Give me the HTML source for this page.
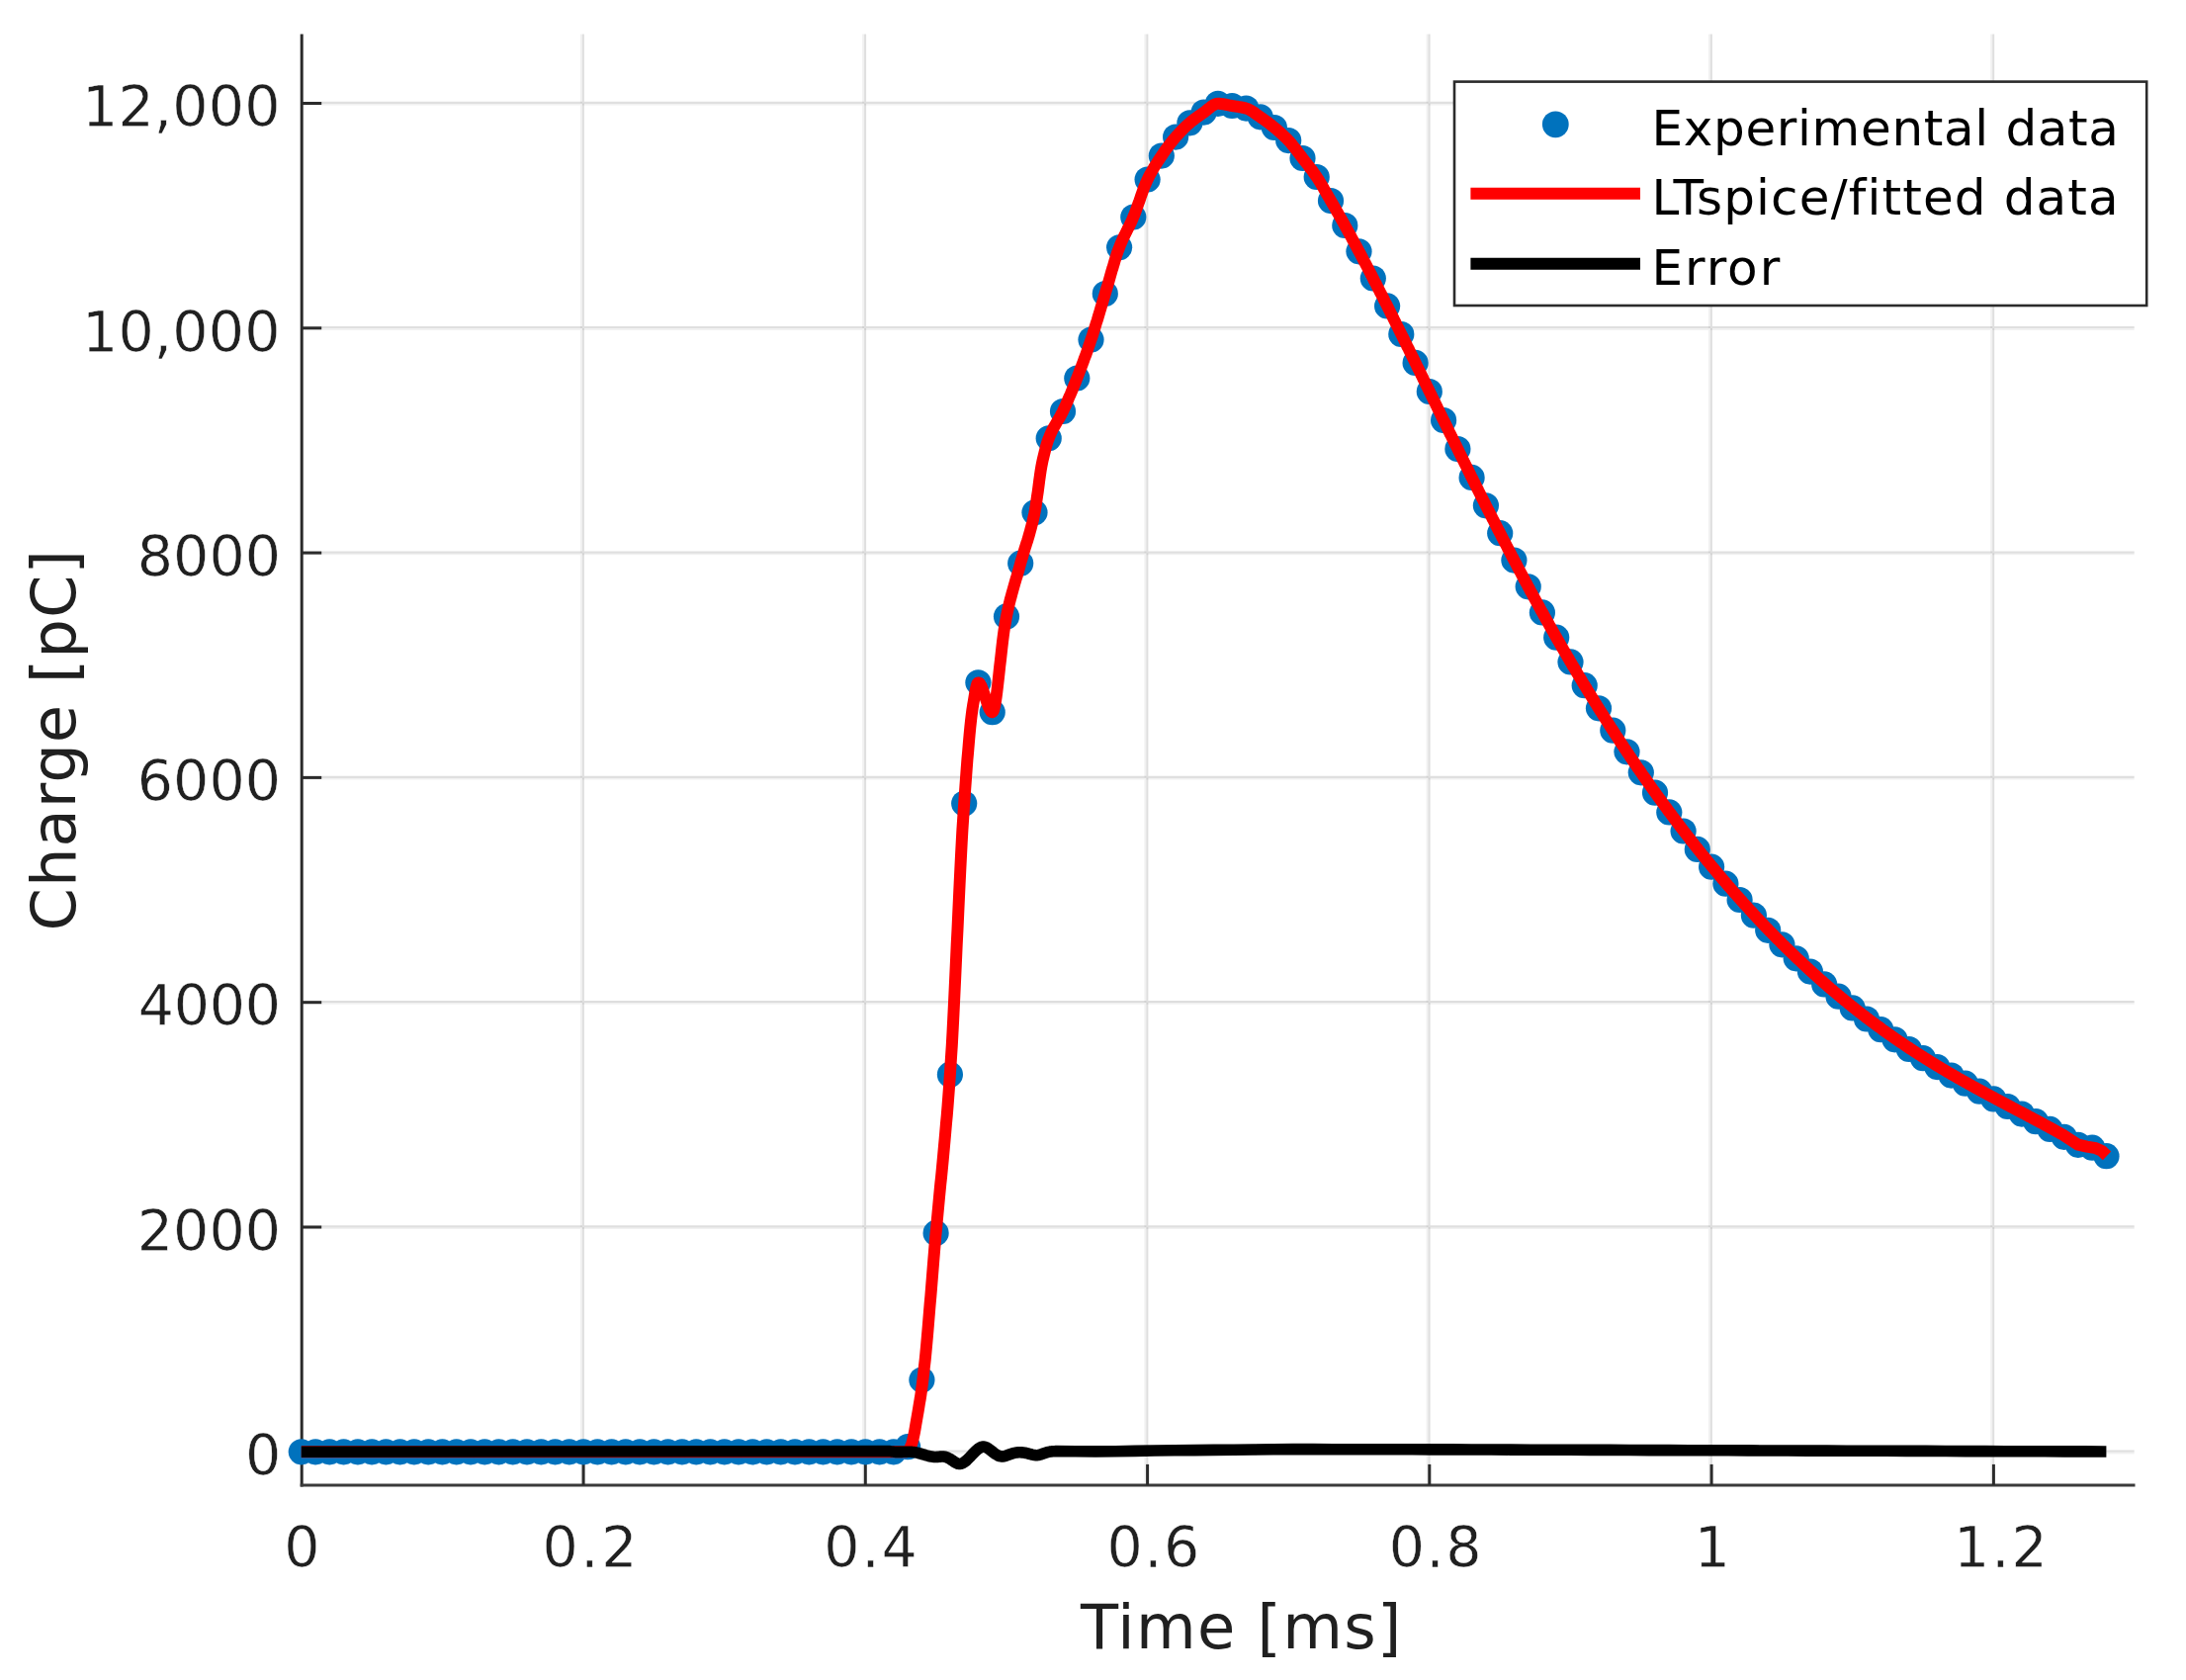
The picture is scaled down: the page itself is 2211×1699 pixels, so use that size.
<!DOCTYPE html>
<html lang="en"><head><meta charset="utf-8"><title>Charge vs Time</title>
<style>html,body{margin:0;padding:0;background:#fff}body{width:2211px;height:1699px;overflow:hidden}</style>
</head><body>
<svg width="2211" height="1699" viewBox="0 0 2211 1699" style="display:block;filter:blur(0.55px)">
<rect width="2211" height="1699" fill="#fff"/>
<path d="M589.9 34.5V1501.9M875.1 34.5V1501.9M1160.4 34.5V1501.9M1445.6 34.5V1501.9M1730.9 34.5V1501.9M2016.2 34.5V1501.9M305.2 1467.6H2158.7M305.2 1240.3H2158.7M305.2 1013.0H2158.7M305.2 785.7H2158.7M305.2 558.4H2158.7M305.2 331.1H2158.7M305.2 103.8H2158.7" stroke="#000" stroke-opacity="0.125" stroke-width="2" fill="none"/>
<path d="M587.9 34.5V1501.9M873.1 34.5V1501.9M1158.4 34.5V1501.9M1443.6 34.5V1501.9M1728.9 34.5V1501.9M2014.2 34.5V1501.9M305.2 1469.4H2158.7M305.2 1242.1H2158.7M305.2 1014.8H2158.7M305.2 787.5H2158.7M305.2 560.2H2158.7M305.2 332.9H2158.7M305.2 105.6H2158.7" stroke="#000" stroke-opacity="0.055" stroke-width="2" fill="none"/>
<g stroke="#2b2b2b" stroke-width="3" fill="none">
<line x1="305.2" y1="34.5" x2="305.2" y2="1503.4"/>
<line x1="303.7" y1="1501.9" x2="2159.5" y2="1501.9" stroke="#3a3a3a"/>
<line x1="590.1" y1="1501.9" x2="590.1" y2="1480.9"/>
<line x1="875.3" y1="1501.9" x2="875.3" y2="1480.9"/>
<line x1="1160.6" y1="1501.9" x2="1160.6" y2="1480.9"/>
<line x1="1445.8" y1="1501.9" x2="1445.8" y2="1480.9"/>
<line x1="1731.1" y1="1501.9" x2="1731.1" y2="1480.9"/>
<line x1="2016.4" y1="1501.9" x2="2016.4" y2="1480.9"/>
<line x1="305.2" y1="1468.3" x2="325.2" y2="1468.3"/>
<line x1="305.2" y1="1241.0" x2="325.2" y2="1241.0"/>
<line x1="305.2" y1="1013.7" x2="325.2" y2="1013.7"/>
<line x1="305.2" y1="786.4" x2="325.2" y2="786.4"/>
<line x1="305.2" y1="559.1" x2="325.2" y2="559.1"/>
<line x1="305.2" y1="331.8" x2="325.2" y2="331.8"/>
<line x1="305.2" y1="104.5" x2="325.2" y2="104.5"/>
</g>
<g fill="#0072bd">
<circle cx="304.8" cy="1468.3" r="13.1"/>
<circle cx="319.1" cy="1468.3" r="13.1"/>
<circle cx="333.3" cy="1468.3" r="13.1"/>
<circle cx="347.6" cy="1468.3" r="13.1"/>
<circle cx="361.9" cy="1468.3" r="13.1"/>
<circle cx="376.1" cy="1468.3" r="13.1"/>
<circle cx="390.4" cy="1468.3" r="13.1"/>
<circle cx="404.6" cy="1468.3" r="13.1"/>
<circle cx="418.9" cy="1468.3" r="13.1"/>
<circle cx="433.2" cy="1468.3" r="13.1"/>
<circle cx="447.4" cy="1468.3" r="13.1"/>
<circle cx="461.7" cy="1468.3" r="13.1"/>
<circle cx="476.0" cy="1468.3" r="13.1"/>
<circle cx="490.2" cy="1468.3" r="13.1"/>
<circle cx="504.5" cy="1468.3" r="13.1"/>
<circle cx="518.7" cy="1468.3" r="13.1"/>
<circle cx="533.0" cy="1468.3" r="13.1"/>
<circle cx="547.3" cy="1468.3" r="13.1"/>
<circle cx="561.5" cy="1468.3" r="13.1"/>
<circle cx="575.8" cy="1468.3" r="13.1"/>
<circle cx="590.1" cy="1468.3" r="13.1"/>
<circle cx="604.3" cy="1468.3" r="13.1"/>
<circle cx="618.6" cy="1468.3" r="13.1"/>
<circle cx="632.8" cy="1468.3" r="13.1"/>
<circle cx="647.1" cy="1468.3" r="13.1"/>
<circle cx="661.4" cy="1468.3" r="13.1"/>
<circle cx="675.6" cy="1468.3" r="13.1"/>
<circle cx="689.9" cy="1468.3" r="13.1"/>
<circle cx="704.2" cy="1468.3" r="13.1"/>
<circle cx="718.4" cy="1468.3" r="13.1"/>
<circle cx="732.7" cy="1468.3" r="13.1"/>
<circle cx="747.0" cy="1468.3" r="13.1"/>
<circle cx="761.2" cy="1468.3" r="13.1"/>
<circle cx="775.5" cy="1468.3" r="13.1"/>
<circle cx="789.7" cy="1468.3" r="13.1"/>
<circle cx="804.0" cy="1468.3" r="13.1"/>
<circle cx="818.3" cy="1468.3" r="13.1"/>
<circle cx="832.5" cy="1468.3" r="13.1"/>
<circle cx="846.8" cy="1468.3" r="13.1"/>
<circle cx="861.1" cy="1468.3" r="13.1"/>
<circle cx="875.3" cy="1468.3" r="13.1"/>
<circle cx="889.6" cy="1468.3" r="13.1"/>
<circle cx="903.8" cy="1468.3" r="13.1"/>
<circle cx="918.1" cy="1463.2" r="13.1"/>
<circle cx="932.4" cy="1395.6" r="13.1"/>
<circle cx="946.6" cy="1246.9" r="13.1"/>
<circle cx="960.9" cy="1086.7" r="13.1"/>
<circle cx="975.2" cy="812.5" r="13.1"/>
<circle cx="989.4" cy="690.3" r="13.1"/>
<circle cx="1003.7" cy="720.2" r="13.1"/>
<circle cx="1018.0" cy="623.4" r="13.1"/>
<circle cx="1032.2" cy="569.7" r="13.1"/>
<circle cx="1046.5" cy="518.3" r="13.1"/>
<circle cx="1060.7" cy="443.3" r="13.1"/>
<circle cx="1075.0" cy="416.0" r="13.1"/>
<circle cx="1089.3" cy="382.5" r="13.1"/>
<circle cx="1103.5" cy="343.5" r="13.1"/>
<circle cx="1117.8" cy="297.0" r="13.1"/>
<circle cx="1132.1" cy="250.3" r="13.1"/>
<circle cx="1146.3" cy="219.5" r="13.1"/>
<circle cx="1160.6" cy="181.6" r="13.1"/>
<circle cx="1174.8" cy="157.6" r="13.1"/>
<circle cx="1189.1" cy="138.6" r="13.1"/>
<circle cx="1203.4" cy="124.3" r="13.1"/>
<circle cx="1217.6" cy="113.6" r="13.1"/>
<circle cx="1231.9" cy="104.8" r="13.1"/>
<circle cx="1246.2" cy="107.0" r="13.1"/>
<circle cx="1260.4" cy="109.6" r="13.1"/>
<circle cx="1274.7" cy="118.3" r="13.1"/>
<circle cx="1288.9" cy="129.0" r="13.1"/>
<circle cx="1303.2" cy="142.1" r="13.1"/>
<circle cx="1317.5" cy="160.0" r="13.1"/>
<circle cx="1331.7" cy="179.0" r="13.1"/>
<circle cx="1346.0" cy="203.1" r="13.1"/>
<circle cx="1360.3" cy="228.0" r="13.1"/>
<circle cx="1374.5" cy="254.3" r="13.1"/>
<circle cx="1388.8" cy="281.5" r="13.1"/>
<circle cx="1403.1" cy="309.4" r="13.1"/>
<circle cx="1417.3" cy="338.0" r="13.1"/>
<circle cx="1431.6" cy="366.9" r="13.1"/>
<circle cx="1445.8" cy="396.0" r="13.1"/>
<circle cx="1460.1" cy="425.1" r="13.1"/>
<circle cx="1474.4" cy="454.1" r="13.1"/>
<circle cx="1488.6" cy="482.9" r="13.1"/>
<circle cx="1502.9" cy="511.3" r="13.1"/>
<circle cx="1517.2" cy="539.2" r="13.1"/>
<circle cx="1531.4" cy="566.6" r="13.1"/>
<circle cx="1545.7" cy="593.3" r="13.1"/>
<circle cx="1559.9" cy="619.4" r="13.1"/>
<circle cx="1574.2" cy="644.7" r="13.1"/>
<circle cx="1588.5" cy="669.4" r="13.1"/>
<circle cx="1602.7" cy="693.2" r="13.1"/>
<circle cx="1617.0" cy="716.3" r="13.1"/>
<circle cx="1631.3" cy="738.7" r="13.1"/>
<circle cx="1645.5" cy="760.3" r="13.1"/>
<circle cx="1659.8" cy="781.3" r="13.1"/>
<circle cx="1674.0" cy="801.7" r="13.1"/>
<circle cx="1688.3" cy="821.4" r="13.1"/>
<circle cx="1702.6" cy="840.5" r="13.1"/>
<circle cx="1716.8" cy="858.9" r="13.1"/>
<circle cx="1731.1" cy="876.7" r="13.1"/>
<circle cx="1745.4" cy="893.7" r="13.1"/>
<circle cx="1759.6" cy="910.0" r="13.1"/>
<circle cx="1773.9" cy="925.7" r="13.1"/>
<circle cx="1788.2" cy="940.8" r="13.1"/>
<circle cx="1802.4" cy="955.3" r="13.1"/>
<circle cx="1816.7" cy="969.3" r="13.1"/>
<circle cx="1830.9" cy="982.6" r="13.1"/>
<circle cx="1845.2" cy="995.4" r="13.1"/>
<circle cx="1859.5" cy="1007.7" r="13.1"/>
<circle cx="1873.7" cy="1019.4" r="13.1"/>
<circle cx="1888.0" cy="1030.5" r="13.1"/>
<circle cx="1902.3" cy="1041.2" r="13.1"/>
<circle cx="1916.5" cy="1051.3" r="13.1"/>
<circle cx="1930.8" cy="1061.0" r="13.1"/>
<circle cx="1945.0" cy="1070.2" r="13.1"/>
<circle cx="1959.3" cy="1079.1" r="13.1"/>
<circle cx="1973.6" cy="1087.6" r="13.1"/>
<circle cx="1987.8" cy="1095.7" r="13.1"/>
<circle cx="2002.1" cy="1103.7" r="13.1"/>
<circle cx="2016.4" cy="1111.4" r="13.1"/>
<circle cx="2030.6" cy="1119.0" r="13.1"/>
<circle cx="2044.9" cy="1126.6" r="13.1"/>
<circle cx="2059.1" cy="1134.2" r="13.1"/>
<circle cx="2073.4" cy="1141.9" r="13.1"/>
<circle cx="2087.7" cy="1149.8" r="13.1"/>
<circle cx="2101.9" cy="1157.8" r="13.1"/>
<circle cx="2116.2" cy="1160.7" r="13.1"/>
<circle cx="2130.5" cy="1169.2" r="13.1"/>
</g>
<polyline points="304.8,1468.3 915.3,1468.3 917.1,1468.3 917.8,1467.9 918.5,1467.2 919.3,1466.4 920.0,1465.3 920.7,1463.9 921.4,1462.2 922.1,1460.3 922.8,1458.1 923.5,1455.3 924.2,1452.0 925.0,1448.2 925.7,1444.2 926.4,1440.1 927.1,1436.0 927.8,1432.0 928.5,1427.9 929.2,1423.7 929.9,1419.4 930.7,1414.9 931.4,1410.3 932.1,1405.3 932.8,1400.1 933.5,1394.6 934.2,1388.6 934.9,1382.1 935.7,1375.3 936.4,1368.0 937.1,1360.5 937.8,1352.6 938.5,1344.5 939.2,1336.1 939.9,1327.6 940.6,1319.0 941.4,1310.3 942.1,1301.5 942.8,1292.7 943.5,1284.0 944.2,1275.3 944.9,1266.7 945.6,1258.3 946.3,1250.1 947.1,1242.1 947.8,1234.3 948.5,1226.7 949.2,1219.2 949.9,1211.8 950.6,1204.4 951.3,1197.1 952.1,1189.8 952.8,1182.5 953.5,1175.1 954.2,1167.6 954.9,1159.9 955.6,1152.2 956.3,1144.2 957.0,1136.0 957.8,1127.6 958.5,1118.9 959.2,1109.8 959.9,1100.5 960.6,1090.7 961.3,1080.4 962.0,1069.2 962.8,1057.0 963.5,1044.0 964.2,1030.4 964.9,1016.1 965.6,1001.3 966.3,986.2 967.0,970.9 967.7,955.3 968.5,939.8 969.2,924.3 969.9,909.0 970.6,894.0 971.3,879.5 972.0,865.4 972.7,852.0 973.4,839.3 974.2,827.4 974.9,816.6 975.6,806.6 976.3,796.7 977.0,787.0 977.7,777.5 978.4,768.3 979.2,759.5 979.9,751.1 980.6,743.1 981.3,735.8 982.0,729.1 982.7,723.1 983.4,717.9 984.1,713.3 984.9,708.8 985.6,704.3 986.3,700.2 987.0,696.6 987.7,693.6 988.4,691.5 989.1,690.4 989.9,690.4 990.6,690.8 991.3,691.7 992.0,692.9 992.7,694.3 993.4,696.0 994.1,697.9 994.8,700.0 995.6,702.1 996.3,704.4 997.0,706.6 997.7,708.8 998.4,710.9 999.1,713.0 999.8,714.8 1000.5,716.5 1001.3,717.9 1002.0,719.0 1002.7,719.8 1003.4,720.2 1004.1,720.0 1004.8,718.7 1005.5,716.4 1006.3,713.2 1007.0,709.1 1007.7,704.3 1008.4,699.0 1009.1,693.1 1009.8,686.9 1010.5,680.5 1011.2,673.9 1012.0,667.3 1012.7,660.8 1013.4,654.5 1014.1,648.5 1014.8,642.9 1015.5,637.8 1016.2,633.3 1017.0,628.9 1017.7,624.8 1018.4,621.3 1019.1,618.0 1019.8,614.9 1020.5,611.8 1021.2,608.9 1021.9,606.0 1022.7,603.3 1023.4,600.6 1024.1,598.0 1024.8,595.5 1025.5,593.0 1026.2,590.5 1026.9,588.1 1027.6,585.6 1028.4,583.2 1029.1,580.8 1029.8,578.3 1030.5,575.8 1031.2,573.3 1031.9,570.7 1032.6,568.1 1033.4,565.6 1034.1,563.2 1034.8,560.8 1035.5,558.4 1036.2,556.1 1036.9,553.8 1037.6,551.6 1038.3,549.3 1039.1,547.0 1039.8,544.6 1040.5,542.2 1041.2,539.8 1041.9,537.2 1042.6,534.6 1043.3,531.9 1044.1,529.1 1044.8,526.1 1045.5,522.9 1046.2,519.7 1046.9,516.1 1047.6,511.9 1048.3,507.2 1049.0,502.2 1049.8,496.8 1050.5,491.5 1051.2,486.1 1051.9,481.0 1052.6,476.2 1053.3,472.0 1054.0,468.3 1054.7,465.0 1055.5,461.8 1056.2,458.8 1056.9,456.0 1057.6,453.2 1058.3,450.7 1059.0,448.3 1059.7,446.1 1060.5,444.1 1061.2,442.2 1061.9,440.4 1062.6,438.8 1063.3,437.2 1064.0,435.7 1064.7,434.3 1065.4,433.0 1066.2,431.7 1066.9,430.4 1067.6,429.2 1068.3,428.0 1069.0,426.8 1069.7,425.6 1070.4,424.4 1071.2,423.2 1071.9,422.0 1072.6,420.7 1073.3,419.4 1074.0,418.0 1074.7,416.6 1075.4,415.1 1076.1,413.6 1076.9,412.0 1077.6,410.5 1078.3,408.9 1079.0,407.3 1079.7,405.6 1080.4,404.0 1081.1,402.3 1081.8,400.7 1082.6,399.0 1083.3,397.3 1084.0,395.6 1084.7,393.8 1085.4,392.1 1086.1,390.3 1086.8,388.6 1087.6,386.8 1088.3,385.0 1089.0,383.2 1089.7,381.4 1090.4,379.6 1091.1,377.8 1091.8,375.9 1092.5,374.1 1093.3,372.2 1094.0,370.3 1094.7,368.4 1095.4,366.5 1096.1,364.6 1096.8,362.6 1097.5,360.7 1098.3,358.7 1099.0,356.7 1099.7,354.7 1100.4,352.6 1101.1,350.6 1101.8,348.5 1102.5,346.5 1103.2,344.3 1104.0,342.2 1104.7,340.1 1105.4,337.9 1106.1,335.6 1106.8,333.4 1107.5,331.1 1108.2,328.8 1108.9,326.4 1109.7,324.1 1110.4,321.7 1111.1,319.3 1111.8,317.0 1112.5,314.6 1113.2,312.2 1113.9,309.8 1114.7,307.4 1115.4,305.0 1116.1,302.6 1116.8,300.3 1117.5,297.9 1118.2,295.6 1118.9,293.2 1119.6,290.8 1120.4,288.4 1121.1,285.9 1121.8,283.4 1122.5,280.9 1123.2,278.4 1123.9,275.9 1124.6,273.4 1125.4,271.0 1126.1,268.6 1126.8,266.2 1127.5,263.8 1128.2,261.5 1128.9,259.3 1129.6,257.1 1130.3,255.0 1131.1,253.0 1131.8,251.1 1132.5,249.2 1133.2,247.4 1133.9,245.7 1134.6,244.1 1135.3,242.5 1136.0,240.9 1136.8,239.4 1137.5,238.0 1138.2,236.5 1138.9,235.1 1139.6,233.7 1140.3,232.2 1141.0,230.8 1141.8,229.4 1142.5,227.9 1143.2,226.5 1143.9,225.0 1144.6,223.4 1145.3,221.8 1146.0,220.2 1146.7,218.5 1147.5,216.7 1148.2,214.8 1148.9,212.9 1149.6,211.0 1150.3,209.0 1151.0,207.0 1151.7,204.9 1152.5,202.9 1153.2,200.8 1153.9,198.7 1154.6,196.7 1155.3,194.7 1156.0,192.7 1156.7,190.8 1157.4,188.9 1158.2,187.1 1158.9,185.4 1159.6,183.8 1160.3,182.2 1161.0,180.7 1161.7,179.3 1162.4,177.9 1163.1,176.6 1163.9,175.2 1164.6,173.9 1165.3,172.7 1166.0,171.4 1166.7,170.2 1167.4,169.0 1168.1,167.9 1168.9,166.7 1169.6,165.6 1170.3,164.5 1171.0,163.4 1171.7,162.3 1172.4,161.2 1173.1,160.2 1173.8,159.1 1174.6,158.0 1175.3,157.0 1176.0,155.9 1176.7,154.9 1177.4,153.8 1178.1,152.8 1178.8,151.8 1179.5,150.8 1180.3,149.8 1181.0,148.8 1181.7,147.9 1182.4,146.9 1183.1,146.0 1183.8,145.0 1184.5,144.1 1185.3,143.2 1186.0,142.3 1186.7,141.5 1187.4,140.6 1188.1,139.8 1188.8,138.9 1189.5,138.1 1190.2,137.3 1191.0,136.5 1191.7,135.7 1192.4,135.0 1193.1,134.2 1193.8,133.4 1194.5,132.7 1195.2,132.0 1196.0,131.2 1196.7,130.5 1197.4,129.8 1198.1,129.1 1198.8,128.4 1199.5,127.8 1200.2,127.1 1200.9,126.4 1201.7,125.8 1202.4,125.2 1203.1,124.5 1203.8,123.9 1204.5,123.3 1205.2,122.7 1205.9,122.2 1206.6,121.6 1207.4,121.0 1208.1,120.5 1208.8,119.9 1209.5,119.4 1210.2,118.8 1210.9,118.3 1211.6,117.8 1212.4,117.3 1213.1,116.8 1213.8,116.3 1214.5,115.8 1215.2,115.3 1215.9,114.8 1216.6,114.3 1217.3,113.8 1218.1,113.3 1218.8,112.8 1219.5,112.2 1220.2,111.7 1220.9,111.1 1221.6,110.5 1222.3,109.9 1223.1,109.3 1223.8,108.8 1224.5,108.2 1225.2,107.7 1225.9,107.2 1226.6,106.7 1227.3,106.3 1228.0,105.9 1228.8,105.5 1229.5,105.2 1230.2,105.0 1230.9,104.9 1231.6,104.8 1232.3,104.8 1233.0,104.8 1233.7,104.9 1234.5,104.9 1235.2,105.0 1235.9,105.1 1236.6,105.2 1237.3,105.3 1238.0,105.4 1238.7,105.5 1239.5,105.7 1240.2,105.8 1240.9,106.0 1241.6,106.1 1242.3,106.3 1243.0,106.4 1243.7,106.6 1244.4,106.7 1245.2,106.8 1245.9,107.0 1246.6,107.1 1247.3,107.2 1248.0,107.3 1248.7,107.4 1249.4,107.5 1250.2,107.6 1250.9,107.7 1251.6,107.8 1252.3,107.9 1253.0,108.1 1253.7,108.2 1254.4,108.3 1255.1,108.4 1255.9,108.5 1256.6,108.7 1257.3,108.8 1258.0,109.0 1258.7,109.2 1259.4,109.3 1260.1,109.5 1260.8,109.7 1261.6,110.0 1262.3,110.3 1263.0,110.6 1263.7,110.9 1264.4,111.3 1265.1,111.7 1265.8,112.1 1266.6,112.6 1267.3,113.1 1268.0,113.5 1268.7,114.0 1269.4,114.5 1270.1,115.1 1270.8,115.6 1271.5,116.1 1272.3,116.6 1273.0,117.1 1273.7,117.6 1274.4,118.1 1275.1,118.6 1275.8,119.1 1276.5,119.6 1277.3,120.1 1278.0,120.6 1278.7,121.1 1279.4,121.6 1280.1,122.1 1280.8,122.6 1281.5,123.2 1282.2,123.7 1283.0,124.2 1283.7,124.8 1284.4,125.3 1285.1,125.9 1285.8,126.5 1286.5,127.0 1287.2,127.6 1287.9,128.2 1288.7,128.8 1289.4,129.4 1290.1,129.9 1290.8,130.5 1291.5,131.1 1292.2,131.8 1292.9,132.4 1293.7,133.0 1294.4,133.6 1295.1,134.2 1295.8,134.9 1296.5,135.5 1297.2,136.2 1297.9,136.8 1298.6,137.5 1299.4,138.2 1300.1,138.9 1300.8,139.6 1301.5,140.3 1302.2,141.1 1302.9,141.8 1303.6,142.6 1304.4,143.3 1305.1,144.1 1305.8,145.0 1306.5,145.8 1307.2,146.7 1307.9,147.6 1308.6,148.4 1309.3,149.4 1310.1,150.3 1310.8,151.2 1311.5,152.1 1312.2,153.1 1312.9,154.0 1313.6,154.9 1314.3,155.9 1315.0,156.8 1315.8,157.8 1316.5,158.7 1317.2,159.6 1317.9,160.6 1318.6,161.5 1319.3,162.4 1320.0,163.3 1320.8,164.2 1321.5,165.1 1322.2,166.0 1322.9,166.9 1323.6,167.9 1324.3,168.8 1325.0,169.7 1325.7,170.6 1326.5,171.6 1327.2,172.5 1327.9,173.5 1328.6,174.5 1329.3,175.5 1330.0,176.5 1330.7,177.5 1331.5,178.6 1332.2,179.6 1332.9,180.7 1333.6,181.8 1334.3,183.0 1335.0,184.1 1335.7,185.3 1336.4,186.5 1337.2,187.7 1337.9,188.9 1338.6,190.1 1339.3,191.4 1340.0,192.6 1340.7,193.9 1341.4,195.1 1342.1,196.4 1342.9,197.6 1343.6,198.9 1344.3,200.1 1345.0,201.3 1345.7,202.6 1346.4,203.8 1347.1,205.0 1347.9,206.3 1348.6,207.5 1349.3,208.7 1350.0,210.0 1350.7,211.2 1351.4,212.4 1352.1,213.7 1352.8,214.9 1353.6,216.2 1354.3,217.4 1355.0,218.7 1355.7,219.9 1356.4,221.2 1357.1,222.5 1357.8,223.7 1358.6,225.0 1359.3,226.3 1360.0,227.5 1360.7,228.8 1361.4,230.1 1362.1,231.4 1362.8,232.7 1363.5,234.0 1364.3,235.3 1365.0,236.6 1365.7,237.9 1366.4,239.2 1367.1,240.5 1367.8,241.8 1368.5,243.1 1369.2,244.4 1370.0,245.8 1370.7,247.1 1371.4,248.4 1372.1,249.7 1372.8,251.1 1373.5,252.4 1374.2,253.7 1375.0,255.1 1375.7,256.4 1376.4,257.7 1377.1,259.1 1377.8,260.4 1378.5,261.8 1379.2,263.1 1379.9,264.5 1380.7,265.8 1381.4,267.2 1382.1,268.6 1382.8,269.9 1383.5,271.3 1384.2,272.7 1384.9,274.0 1385.7,275.4 1386.4,276.8 1387.1,278.2 1387.8,279.5 1388.5,280.9 1389.2,282.3 1389.9,283.7 1390.6,285.1 1391.4,286.4 1392.1,287.8 1392.8,289.2 1393.5,290.6 1394.2,292.0 1394.9,293.4 1395.6,294.8 1396.3,296.2 1397.1,297.6 1397.8,299.0 1398.5,300.4 1399.2,301.8 1399.9,303.2 1400.6,304.6 1401.3,306.0 1402.1,307.5 1402.8,308.9 1403.5,310.3 1404.2,311.7 1404.9,313.1 1405.6,314.5 1406.3,315.9 1407.0,317.4 1407.8,318.8 1408.5,320.2 1409.2,321.6 1409.9,323.1 1410.6,324.5 1411.3,325.9 1412.0,327.4 1412.7,328.8 1413.5,330.2 1414.2,331.7 1414.9,333.1 1415.6,334.5 1416.3,336.0 1417.0,337.4 1417.7,338.8 1418.5,340.3 1419.2,341.7 1419.9,343.1 1420.6,344.6 1421.3,346.0 1422.0,347.5 1422.7,348.9 1423.4,350.4 1424.2,351.8 1424.9,353.3 1425.6,354.7 1426.3,356.2 1427.0,357.6 1427.7,359.0 1428.4,360.5 1429.2,361.9 1429.9,363.4 1430.6,364.8 1431.3,366.3 1432.0,367.7 1432.7,369.2 1433.4,370.7 1434.1,372.1 1434.9,373.6 1435.6,375.0 1436.3,376.5 1437.0,377.9 1437.7,379.4 1438.4,380.8 1439.1,382.3 1439.8,383.7 1440.6,385.2 1441.3,386.7 1442.0,388.1 1442.7,389.6 1443.4,391.0 1444.1,392.5 1444.8,393.9 1445.6,395.4 1446.3,396.9 1447.0,398.3 1447.7,399.8 1448.4,401.2 1449.1,402.7 1449.8,404.1 1450.5,405.6 1451.3,407.0 1452.0,408.5 1452.7,410.0 1453.4,411.4 1454.1,412.9 1454.8,414.3 1455.5,415.8 1456.3,417.2 1457.0,418.7 1457.7,420.2 1458.4,421.6 1459.1,423.1 1459.8,424.5 1460.5,426.0 1461.2,427.4 1462.0,428.9 1462.7,430.3 1463.4,431.8 1464.1,433.2 1464.8,434.7 1465.5,436.2 1466.2,437.6 1466.9,439.1 1467.7,440.5 1468.4,442.0 1469.1,443.4 1469.8,444.9 1470.5,446.3 1471.2,447.8 1471.9,449.2 1472.7,450.6 1473.4,452.1 1474.1,453.5 1474.8,455.0 1475.5,456.4 1476.2,457.9 1476.9,459.3 1477.6,460.8 1478.4,462.2 1479.1,463.6 1479.8,465.1 1480.5,466.5 1481.2,468.0 1481.9,469.4 1482.6,470.8 1483.4,472.3 1484.1,473.7 1484.8,475.1 1485.5,476.6 1486.2,478.0 1486.9,479.4 1487.6,480.9 1488.3,482.3 1489.1,483.7 1489.8,485.2 1490.5,486.6 1491.2,488.0 1491.9,489.4 1492.6,490.9 1493.3,492.3 1494.0,493.7 1494.8,495.1 1495.5,496.6 1496.2,498.0 1496.9,499.4 1497.6,500.8 1498.3,502.2 1499.0,503.7 1499.8,505.1 1500.5,506.5 1501.2,507.9 1501.9,509.3 1502.6,510.7 1503.3,512.1 1504.0,513.5 1504.7,514.9 1505.5,516.3 1506.2,517.7 1506.9,519.1 1507.6,520.5 1508.3,521.9 1509.0,523.3 1509.7,524.7 1510.5,526.1 1511.2,527.5 1511.9,528.9 1512.6,530.3 1513.3,531.7 1514.0,533.1 1514.7,534.5 1515.4,535.9 1516.2,537.3 1516.9,538.7 1517.6,540.0 1518.3,541.4 1519.0,542.8 1519.7,544.2 1520.4,545.5 1521.1,546.9 1521.9,548.3 1522.6,549.7 1523.3,551.0 1524.0,552.4 1524.7,553.8 1525.4,555.2 1526.1,556.5 1526.9,557.9 1527.6,559.2 1528.3,560.6 1529.0,562.0 1529.7,563.3 1530.4,564.7 1531.1,566.0 1531.8,567.4 1532.6,568.7 1533.3,570.1 1534.0,571.4 1534.7,572.8 1535.4,574.1 1536.1,575.5 1536.8,576.8 1537.6,578.2 1538.3,579.5 1539.0,580.8 1539.7,582.2 1540.4,583.5 1541.1,584.8 1541.8,586.2 1542.5,587.5 1543.3,588.8 1544.0,590.2 1544.7,591.5 1545.4,592.8 1546.1,594.1 1546.8,595.4 1547.5,596.8 1548.2,598.1 1549.0,599.4 1549.7,600.7 1550.4,602.0 1551.1,603.3 1551.8,604.6 1552.5,605.9 1553.2,607.2 1554.0,608.5 1554.7,609.8 1555.4,611.1 1556.1,612.4 1556.8,613.7 1557.5,615.0 1558.2,616.3 1558.9,617.6 1559.7,618.9 1560.4,620.2 1561.1,621.5 1561.8,622.7 1562.5,624.0 1563.2,625.3 1563.9,626.6 1564.7,627.8 1565.4,629.1 1566.1,630.4 1566.8,631.7 1567.5,632.9 1568.2,634.2 1568.9,635.5 1569.6,636.7 1570.4,638.0 1571.1,639.2 1571.8,640.5 1572.5,641.7 1573.2,643.0 1573.9,644.2 1574.6,645.5 1575.3,646.7 1576.1,648.0 1576.8,649.2 1577.5,650.5 1578.2,651.7 1578.9,653.0 1579.6,654.2 1580.3,655.4 1581.1,656.7 1581.8,657.9 1582.5,659.1 1583.2,660.3 1583.9,661.6 1584.6,662.8 1585.3,664.0 1586.0,665.2 1586.8,666.4 1587.5,667.7 1588.2,668.9 1588.9,670.1 1589.6,671.3 1590.3,672.5 1591.0,673.7 1591.8,674.9 1592.5,676.1 1593.2,677.3 1593.9,678.5 1594.6,679.7 1595.3,680.9 1596.0,682.1 1596.7,683.3 1597.5,684.5 1598.2,685.7 1598.9,686.8 1599.6,688.0 1600.3,689.2 1601.0,690.4 1601.7,691.6 1602.4,692.7 1603.2,693.9 1603.9,695.1 1604.6,696.3 1605.3,697.4 1606.0,698.6 1606.7,699.7 1607.4,700.9 1608.2,702.1 1608.9,703.2 1609.6,704.4 1610.3,705.5 1611.0,706.7 1611.7,707.8 1612.4,709.0 1613.1,710.1 1613.9,711.3 1614.6,712.4 1615.3,713.6 1616.0,714.7 1616.7,715.9 1617.4,717.0 1618.1,718.1 1618.9,719.3 1619.6,720.4 1620.3,721.5 1621.0,722.6 1621.7,723.8 1622.4,724.9 1623.1,726.0 1623.8,727.1 1624.6,728.3 1625.3,729.4 1626.0,730.5 1626.7,731.6 1627.4,732.7 1628.1,733.8 1628.8,734.9 1629.5,736.0 1630.3,737.1 1631.0,738.2 1631.7,739.3 1632.4,740.4 1633.1,741.5 1633.8,742.6 1634.5,743.7 1635.3,744.8 1636.0,745.9 1636.7,747.0 1637.4,748.1 1638.1,749.2 1638.8,750.2 1639.5,751.3 1640.2,752.4 1641.0,753.5 1641.7,754.5 1642.4,755.6 1643.1,756.7 1643.8,757.8 1644.5,758.8 1645.2,759.9 1645.9,761.0 1646.7,762.0 1647.4,763.1 1648.1,764.1 1648.8,765.2 1649.5,766.3 1650.2,767.3 1650.9,768.4 1651.7,769.4 1652.4,770.5 1653.1,771.5 1653.8,772.5 1654.5,773.6 1655.2,774.6 1655.9,775.7 1656.6,776.7 1657.4,777.7 1658.1,778.8 1658.8,779.8 1659.5,780.8 1660.2,781.9 1660.9,782.9 1661.6,783.9 1662.4,784.9 1663.1,786.0 1663.8,787.0 1664.5,788.0 1665.2,789.0 1665.9,790.0 1666.6,791.1 1667.3,792.1 1668.1,793.1 1668.8,794.1 1669.5,795.1 1670.2,796.1 1670.9,797.1 1671.6,798.1 1672.3,799.1 1673.0,800.1 1673.8,801.1 1674.5,802.1 1675.2,803.1 1675.9,804.1 1676.6,805.1 1677.3,806.0 1678.0,807.0 1678.8,808.0 1679.5,809.0 1680.2,810.0 1680.9,811.0 1681.6,811.9 1682.3,812.9 1683.0,813.9 1683.7,814.9 1684.5,815.8 1685.2,816.8 1685.9,817.8 1686.6,818.7 1687.3,819.7 1688.0,820.7 1688.7,821.6 1689.5,822.6 1690.2,823.5 1690.9,824.5 1691.6,825.4 1692.3,826.4 1693.0,827.3 1693.7,828.3 1694.4,829.2 1695.2,830.2 1695.9,831.1 1696.6,832.1 1697.3,833.0 1698.0,834.0 1698.7,834.9 1699.4,835.8 1700.1,836.8 1700.9,837.7 1701.6,838.6 1702.3,839.6 1703.0,840.5 1703.7,841.4 1704.4,842.3 1705.1,843.3 1705.9,844.2 1706.6,845.1 1707.3,846.0 1708.0,846.9 1708.7,847.8 1709.4,848.8 1710.1,849.7 1710.8,850.6 1711.6,851.5 1712.3,852.4 1713.0,853.3 1713.7,854.2 1714.4,855.1 1715.1,856.0 1715.8,856.9 1716.6,857.8 1717.3,858.7 1718.0,859.6 1718.7,860.5 1719.4,861.4 1720.1,862.2 1720.8,863.1 1721.5,864.0 1722.3,864.9 1723.0,865.8 1723.7,866.7 1724.4,867.5 1725.1,868.4 1725.8,869.3 1726.5,870.2 1727.2,871.0 1728.0,871.9 1728.7,872.8 1729.4,873.6 1730.1,874.5 1730.8,875.4 1731.5,876.2 1732.2,877.1 1733.0,878.0 1733.7,878.8 1734.4,879.7 1735.1,880.5 1735.8,881.4 1736.5,882.2 1737.2,883.1 1737.9,883.9 1738.7,884.8 1739.4,885.6 1740.1,886.5 1740.8,887.3 1741.5,888.1 1742.2,889.0 1742.9,889.8 1743.7,890.7 1744.4,891.5 1745.1,892.3 1745.8,893.1 1746.5,894.0 1747.2,894.8 1747.9,895.6 1748.6,896.5 1749.4,897.3 1750.1,898.1 1750.8,898.9 1751.5,899.7 1752.2,900.6 1752.9,901.4 1753.6,902.2 1754.3,903.0 1755.1,903.8 1755.8,904.6 1756.5,905.4 1757.2,906.2 1757.9,907.0 1758.6,907.8 1759.3,908.6 1760.1,909.4 1760.8,910.2 1761.5,911.0 1762.2,911.8 1762.9,912.6 1763.6,913.4 1764.3,914.2 1765.0,915.0 1765.8,915.8 1766.5,916.6 1767.2,917.3 1767.9,918.1 1768.6,918.9 1769.3,919.7 1770.0,920.5 1770.8,921.2 1771.5,922.0 1772.2,922.8 1772.9,923.6 1773.6,924.3 1774.3,925.1 1775.0,925.9 1775.7,926.6 1776.5,927.4 1777.2,928.2 1777.9,928.9 1778.6,929.7 1779.3,930.5 1780.0,931.2 1780.7,932.0 1781.4,932.7 1782.2,933.5 1782.9,934.2 1783.6,935.0 1784.3,935.7 1785.0,936.5 1785.7,937.2 1786.4,938.0 1787.2,938.7 1787.9,939.4 1788.6,940.2 1789.3,940.9 1790.0,941.7 1790.7,942.4 1791.4,943.1 1792.1,943.9 1792.9,944.6 1793.6,945.3 1794.3,946.0 1795.0,946.8 1795.7,947.5 1796.4,948.2 1797.1,948.9 1797.9,949.7 1798.6,950.4 1799.3,951.1 1800.0,951.8 1800.7,952.5 1801.4,953.2 1802.1,953.9 1802.8,954.7 1803.6,955.4 1804.3,956.1 1805.0,956.8 1805.7,957.5 1806.4,958.2 1807.1,958.9 1807.8,959.6 1808.5,960.3 1809.3,961.0 1810.0,961.7 1810.7,962.4 1811.4,963.1 1812.1,963.8 1812.8,964.4 1813.5,965.1 1814.3,965.8 1815.0,966.5 1815.7,967.2 1816.4,967.9 1817.1,968.6 1817.8,969.2 1818.5,969.9 1819.2,970.6 1820.0,971.3 1820.7,971.9 1821.4,972.6 1822.1,973.3 1822.8,973.9 1823.5,974.6 1824.2,975.3 1825.0,976.0 1825.7,976.6 1826.4,977.3 1827.1,977.9 1827.8,978.6 1828.5,979.3 1829.2,979.9 1829.9,980.6 1830.7,981.2 1831.4,981.9 1832.1,982.5 1832.8,983.2 1833.5,983.8 1834.2,984.5 1834.9,985.1 1835.6,985.8 1836.4,986.4 1837.1,987.0 1837.8,987.7 1838.5,988.3 1839.2,989.0 1839.9,989.6 1840.6,990.2 1841.4,990.9 1842.1,991.5 1842.8,992.1 1843.5,992.8 1844.2,993.4 1844.9,994.0 1845.6,994.6 1846.3,995.3 1847.1,995.9 1847.8,996.5 1848.5,997.1 1849.2,997.7 1849.9,998.4 1850.6,999.0 1851.3,999.6 1852.1,1000.2 1852.8,1000.8 1853.5,1001.4 1854.2,1002.0 1854.9,1002.6 1855.6,1003.2 1856.3,1003.8 1857.0,1004.4 1857.8,1005.0 1858.5,1005.6 1859.2,1006.2 1859.9,1006.8 1860.6,1007.4 1861.3,1008.0 1862.0,1008.6 1862.7,1009.2 1863.5,1009.8 1864.2,1010.4 1864.9,1011.0 1865.6,1011.6 1866.3,1012.2 1867.0,1012.7 1867.7,1013.3 1868.5,1013.9 1869.2,1014.5 1869.9,1015.1 1870.6,1015.6 1871.3,1016.2 1872.0,1016.8 1872.7,1017.4 1873.4,1017.9 1874.2,1018.5 1874.9,1019.1 1875.6,1019.6 1876.3,1020.2 1877.0,1020.8 1877.7,1021.3 1878.4,1021.9 1879.1,1022.5 1879.9,1023.0 1880.6,1023.6 1881.3,1024.1 1882.0,1024.7 1882.7,1025.2 1883.4,1025.8 1884.1,1026.3 1884.9,1026.9 1885.6,1027.4 1886.3,1028.0 1887.0,1028.5 1887.7,1029.1 1888.4,1029.6 1889.1,1030.2 1889.8,1030.7 1890.6,1031.3 1891.3,1031.8 1892.0,1032.3 1892.7,1032.9 1893.4,1033.4 1894.1,1033.9 1894.8,1034.5 1895.6,1035.0 1896.3,1035.5 1897.0,1036.1 1897.7,1036.6 1898.4,1037.1 1899.1,1037.6 1899.8,1038.2 1900.5,1038.7 1901.3,1039.2 1902.0,1039.7 1902.7,1040.2 1903.4,1040.8 1904.1,1041.3 1904.8,1041.8 1905.5,1042.3 1906.2,1042.8 1907.0,1043.3 1907.7,1043.8 1908.4,1044.3 1909.1,1044.8 1909.8,1045.4 1910.5,1045.9 1911.2,1046.4 1912.0,1046.9 1912.7,1047.4 1913.4,1047.9 1914.1,1048.4 1914.8,1048.9 1915.5,1049.4 1916.2,1049.9 1916.9,1050.4 1917.7,1050.8 1918.4,1051.3 1919.1,1051.8 1919.8,1052.3 1920.5,1052.8 1921.2,1053.3 1921.9,1053.8 1922.7,1054.3 1923.4,1054.7 1924.1,1055.2 1924.8,1055.7 1925.5,1056.2 1926.2,1056.7 1926.9,1057.1 1927.6,1057.6 1928.4,1058.1 1929.1,1058.6 1929.8,1059.0 1930.5,1059.5 1931.2,1060.0 1931.9,1060.5 1932.6,1060.9 1933.3,1061.4 1934.1,1061.9 1934.8,1062.3 1935.5,1062.8 1936.2,1063.3 1936.9,1063.7 1937.6,1064.2 1938.3,1064.6 1939.1,1065.1 1939.8,1065.6 1940.5,1066.0 1941.2,1066.5 1941.9,1066.9 1942.6,1067.4 1943.3,1067.8 1944.0,1068.3 1944.8,1068.7 1945.5,1069.2 1946.2,1069.6 1946.9,1070.1 1947.6,1070.5 1948.3,1071.0 1949.0,1071.4 1949.8,1071.9 1950.5,1072.3 1951.2,1072.8 1951.9,1073.2 1952.6,1073.7 1953.3,1074.1 1954.0,1074.5 1954.7,1075.0 1955.5,1075.4 1956.2,1075.8 1956.9,1076.3 1957.6,1076.7 1958.3,1077.1 1959.0,1077.6 1959.7,1078.0 1960.4,1078.4 1961.2,1078.9 1961.9,1079.3 1962.6,1079.7 1963.3,1080.2 1964.0,1080.6 1964.7,1081.0 1965.4,1081.4 1966.2,1081.9 1966.9,1082.3 1967.6,1082.7 1968.3,1083.1 1969.0,1083.5 1969.7,1084.0 1970.4,1084.4 1971.1,1084.8 1971.9,1085.2 1972.6,1085.6 1973.3,1086.0 1974.0,1086.5 1974.7,1086.9 1975.4,1087.3 1976.1,1087.7 1976.9,1088.1 1977.6,1088.5 1978.3,1088.9 1979.0,1089.3 1979.7,1089.8 1980.4,1090.2 1981.1,1090.6 1981.8,1091.0 1982.6,1091.4 1983.3,1091.8 1984.0,1092.2 1984.7,1092.6 1985.4,1093.0 1986.1,1093.4 1986.8,1093.8 1987.5,1094.2 1988.3,1094.6 1989.0,1095.0 1989.7,1095.4 1990.4,1095.8 1991.1,1096.2 1991.8,1096.6 1992.5,1097.0 1993.3,1097.4 1994.0,1097.8 1994.7,1098.2 1995.4,1098.6 1996.1,1099.0 1996.8,1099.4 1997.5,1099.8 1998.2,1100.2 1999.0,1100.6 1999.7,1100.9 2000.4,1101.3 2001.1,1101.7 2001.8,1102.1 2002.5,1102.5 2003.2,1102.9 2004.0,1103.3 2004.7,1103.7 2005.4,1104.1 2006.1,1104.5 2006.8,1104.8 2007.5,1105.2 2008.2,1105.6 2008.9,1106.0 2009.7,1106.4 2010.4,1106.8 2011.1,1107.2 2011.8,1107.5 2012.5,1107.9 2013.2,1108.3 2013.9,1108.7 2014.6,1109.1 2015.4,1109.5 2016.1,1109.8 2016.8,1110.2 2017.5,1110.6 2018.2,1111.0 2018.9,1111.4 2019.6,1111.8 2020.4,1112.1 2021.1,1112.5 2021.8,1112.9 2022.5,1113.3 2023.2,1113.7 2023.9,1114.0 2024.6,1114.4 2025.3,1114.8 2026.1,1115.2 2026.8,1115.6 2027.5,1115.9 2028.2,1116.3 2028.9,1116.7 2029.6,1117.1 2030.3,1117.4 2031.1,1117.8 2031.8,1118.2 2032.5,1118.6 2033.2,1119.0 2033.9,1119.3 2034.6,1119.7 2035.3,1120.1 2036.0,1120.5 2036.8,1120.8 2037.5,1121.2 2038.2,1121.6 2038.9,1122.0 2039.6,1122.4 2040.3,1122.7 2041.0,1123.1 2041.7,1123.5 2042.5,1123.9 2043.2,1124.2 2043.9,1124.6 2044.6,1125.0 2045.3,1125.4 2046.0,1125.8 2046.7,1126.1 2047.5,1126.5 2048.2,1126.9 2048.9,1127.3 2049.6,1127.6 2050.3,1128.0 2051.0,1128.4 2051.7,1128.8 2052.4,1129.2 2053.2,1129.5 2053.9,1129.9 2054.6,1130.3 2055.3,1130.7 2056.0,1131.1 2056.7,1131.4 2057.4,1131.8 2058.2,1132.2 2058.9,1132.6 2059.6,1133.0 2060.3,1133.3 2061.0,1133.7 2061.7,1134.1 2062.4,1134.5 2063.1,1134.9 2063.9,1135.3 2064.6,1135.6 2065.3,1136.0 2066.0,1136.4 2066.7,1136.8 2067.4,1137.2 2068.1,1137.6 2068.8,1138.0 2069.6,1138.3 2070.3,1138.7 2071.0,1139.1 2071.7,1139.5 2072.4,1139.9 2073.1,1140.3 2073.8,1140.7 2074.6,1141.1 2075.3,1141.4 2076.0,1141.8 2076.7,1142.2 2077.4,1142.6 2078.1,1143.0 2078.8,1143.4 2079.5,1143.8 2080.3,1144.2 2081.0,1144.6 2081.7,1145.0 2082.4,1145.4 2083.1,1145.8 2083.8,1146.2 2084.5,1146.6 2085.3,1147.0 2086.0,1147.4 2086.7,1147.8 2087.4,1148.2 2101.9,1157.7 2110.8,1159.7 2119.8,1161.2 2125.8,1163.9 2131.0,1168.9" fill="none" stroke="#ff0000" stroke-width="12" stroke-linejoin="round" stroke-linecap="butt"/>
<polyline points="304.8,1468.3 900.0,1467.6 901.5,1467.9 903.0,1468.1 904.5,1468.3 906.0,1468.4 907.5,1468.4 909.0,1468.4 910.5,1468.4 912.0,1468.4 913.5,1468.3 915.0,1468.3 916.5,1468.3 918.0,1468.3 919.5,1468.3 921.0,1468.3 922.5,1468.4 924.0,1468.6 925.5,1468.8 927.0,1469.0 928.5,1469.4 930.0,1469.8 931.5,1470.2 933.0,1470.7 934.5,1471.1 936.0,1471.6 937.5,1472.0 939.0,1472.4 940.5,1472.8 942.0,1473.1 943.5,1473.3 945.0,1473.5 946.5,1473.5 948.0,1473.4 949.5,1473.2 951.0,1473.1 952.5,1473.0 954.0,1473.0 955.5,1473.2 957.0,1473.6 958.5,1474.2 960.0,1474.9 961.5,1475.8 963.0,1476.8 964.5,1477.9 966.0,1478.9 967.5,1479.7 969.0,1480.3 970.5,1480.5 972.0,1480.3 973.5,1479.8 975.0,1478.9 976.5,1477.8 978.0,1476.5 979.5,1475.0 981.0,1473.5 982.5,1471.9 984.0,1470.3 985.5,1468.7 987.0,1467.3 988.5,1465.9 990.0,1464.8 991.5,1463.8 993.0,1463.2 994.5,1463.0 996.0,1463.2 997.5,1463.7 999.0,1464.5 1000.5,1465.6 1002.0,1466.7 1003.5,1467.9 1005.0,1469.1 1006.5,1470.2 1008.0,1471.1 1009.5,1472.0 1011.0,1472.6 1012.5,1472.9 1014.0,1472.9 1015.5,1472.7 1017.0,1472.4 1018.5,1471.8 1020.0,1471.3 1021.5,1470.7 1023.0,1470.2 1024.5,1469.7 1026.0,1469.4 1027.5,1469.1 1029.0,1468.9 1030.5,1468.8 1032.0,1468.8 1033.5,1468.9 1035.0,1469.0 1036.5,1469.2 1038.0,1469.5 1039.5,1469.9 1041.0,1470.3 1042.5,1470.7 1044.0,1471.1 1045.5,1471.4 1047.0,1471.6 1048.5,1471.7 1050.0,1471.5 1051.5,1471.2 1053.0,1470.8 1054.5,1470.3 1056.0,1469.7 1057.5,1469.2 1059.0,1468.7 1060.5,1468.4 1062.0,1468.1 1063.5,1467.9 1065.0,1467.8 1066.5,1467.7 1068.0,1467.6 1088.0,1467.8 1108.0,1467.9 1128.0,1467.8 1148.0,1467.4 1168.0,1467.0 1188.0,1466.8 1208.0,1466.6 1228.0,1466.4 1248.0,1466.2 1268.0,1466.0 1288.0,1465.8 1308.0,1465.6 1328.0,1465.6 1348.0,1465.7 1368.0,1465.7 1388.0,1465.8 1408.0,1465.8 1428.0,1465.8 1448.0,1465.9 1468.0,1465.9 1488.0,1466.0 1508.0,1466.0 1528.0,1466.1 1548.0,1466.2 1568.0,1466.2 1588.0,1466.3 1608.0,1466.4 1628.0,1466.4 1648.0,1466.5 1668.0,1466.6 1688.0,1466.6 1708.0,1466.7 1728.0,1466.8 1748.0,1466.8 1768.0,1466.9 1788.0,1467.0 1808.0,1467.0 1828.0,1467.1 1848.0,1467.1 1868.0,1467.2 1888.0,1467.3 1908.0,1467.3 1928.0,1467.4 1948.0,1467.4 1968.0,1467.5 1988.0,1467.6 2008.0,1467.6 2028.0,1467.7 2048.0,1467.8 2068.0,1467.8 2088.0,1467.9 2108.0,1467.9 2128.0,1468.0 2130.4,1468.0" fill="none" stroke="#000" stroke-width="11.6" stroke-linejoin="round" stroke-linecap="butt"/>
<rect x="1471" y="82.6" width="700.2" height="226.4" fill="#fff" stroke="#2b2b2b" stroke-width="2.6"/>
<circle cx="1573.3" cy="125.8" r="13.4" fill="#0072bd"/>
<line x1="1487.4" y1="195.8" x2="1659" y2="195.8" stroke="#ff0000" stroke-width="12"/>
<line x1="1487.4" y1="266.8" x2="1659" y2="266.8" stroke="#000" stroke-width="12"/>
<g font-family="'DejaVu Sans','Liberation Sans',sans-serif">
<text x="1670.5" y="146.6" font-size="50" fill="#000" letter-spacing="0.66">Experimental data</text>
<text x="1670.5" y="217.2" font-size="50" fill="#000" letter-spacing="1.14">LTspice/fitted data</text>
<text x="1670.6" y="287.7" font-size="50" fill="#000" letter-spacing="1.93">Error</text>
</g>
<g font-family="'DejaVu Sans','Liberation Sans',sans-serif" stroke="#fff" stroke-width="0.5" paint-order="fill stroke" stroke-linejoin="round">
<text x="247.9" y="1492.0" font-size="57" fill="#202020">0</text>
<text x="138.7" y="1264.7" font-size="57" fill="#202020" letter-spacing="0.10">2000</text>
<text x="139.7" y="1037.4" font-size="57" fill="#202020" letter-spacing="-0.23">4000</text>
<text x="138.7" y="810.1" font-size="57" fill="#202020" letter-spacing="0.10">6000</text>
<text x="138.7" y="582.8" font-size="57" fill="#202020" letter-spacing="0.10">8000</text>
<text x="82.9" y="355.5" font-size="57" fill="#202020" letter-spacing="0.22">10,000</text>
<text x="82.9" y="128.2" font-size="57" fill="#202020" letter-spacing="0.22">12,000</text>
<text x="287.3" y="1584.6" font-size="57" fill="#202020">0</text>
<text x="548.4" y="1584.6" font-size="57" fill="#202020" letter-spacing="2.70">0.2</text>
<text x="833.2" y="1584.6" font-size="57" fill="#202020" letter-spacing="2.00">0.4</text>
<text x="1119.5" y="1584.6" font-size="57" fill="#202020" letter-spacing="1.55">0.6</text>
<text x="1404.7" y="1584.6" font-size="57" fill="#202020" letter-spacing="1.55">0.8</text>
<text x="1713.7" y="1584.6" font-size="57" fill="#202020">1</text>
<text x="1976.1" y="1584.6" font-size="57" fill="#202020" letter-spacing="1.95">1.2</text>
</g>
<g font-family="'DejaVu Sans','Liberation Sans',sans-serif">
<text x="1092.9" y="1666.9" font-size="62.3" fill="#202020" letter-spacing="1.29">Time [ms]</text>
<text transform="translate(76.0,941.5) rotate(-90)" font-size="62.3" fill="#202020" letter-spacing="1.02">Charge [pC]</text>
</g>
</svg>
</body></html>
